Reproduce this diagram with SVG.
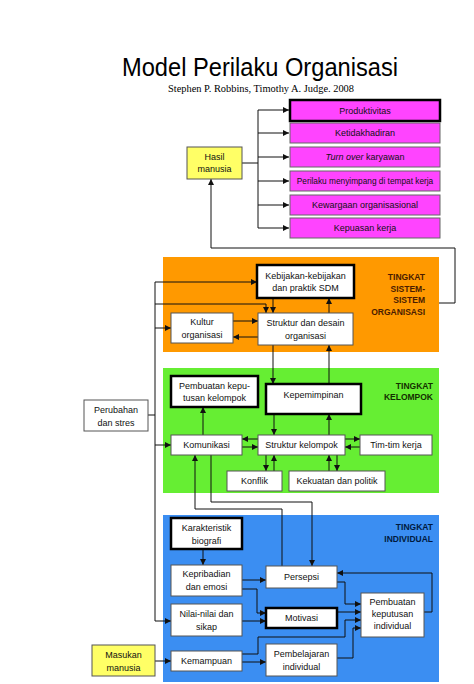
<svg xmlns="http://www.w3.org/2000/svg" width="474" height="684" viewBox="0 0 474 684">
<defs>
<marker id="ah" markerWidth="6" markerHeight="6" refX="6" refY="3" orient="auto" markerUnits="userSpaceOnUse">
<path d="M0,0 L6,3 L0,6 z" fill="#111"/>
</marker>
<style>
text{font-family:"Liberation Sans",Arial,sans-serif;font-size:9px;fill:#111;text-anchor:middle}
.box{fill:#fff;stroke:#555;stroke-width:1}
.thick{fill:#fff;stroke:#000;stroke-width:2.5}
.pink{fill:#ff44ff;stroke:#666;stroke-width:1}
.pinkT{fill:#ff44ff;stroke:#000;stroke-width:2.5}
.yel{fill:#ffff66;stroke:#555;stroke-width:1}
.lvl{font-weight:bold;text-anchor:end;font-size:8.5px}
#connectors path{fill:none;stroke:#111;stroke-width:1}
.a{marker-end:url(#ah)}
</style>
</defs>
<rect width="474" height="684" fill="#fff"/>
<text x="260" y="76" style="font-size:25px;fill:#000" textLength="276" lengthAdjust="spacingAndGlyphs">Model Perilaku Organisasi</text>
<text x="261" y="92" style="font-family:'Liberation Serif',serif;font-size:10px;fill:#000" textLength="186" lengthAdjust="spacingAndGlyphs">Stephen P. Robbins, Timothy A. Judge. 2008</text>

<g id="panels">
<rect x="163" y="257" width="276" height="95" fill="#ff9900"/>
<rect x="163" y="368" width="276" height="125" fill="#66ee33"/>
<rect x="163" y="515" width="276" height="167" fill="#3b8ef2"/>
<text class="lvl" x="425" y="280" style="fill:#4a1c00">TINGKAT</text>
<text class="lvl" x="425" y="292" style="fill:#4a1c00">SISTEM-</text>
<text class="lvl" x="425" y="303" style="fill:#4a1c00">SISTEM</text>
<text class="lvl" x="425" y="315" style="fill:#4a1c00">ORGANISASI</text>
<text class="lvl" x="433" y="389" style="fill:#143000">TINGKAT</text>
<text class="lvl" x="433" y="400" style="fill:#143000">KELOMPOK</text>
<text class="lvl" x="433" y="530" style="fill:#001a40">TINGKAT</text>
<text class="lvl" x="433" y="542" style="fill:#001a40">INDIVIDUAL</text>
</g>

<g id="connectors">
<path d="M242,163 H258"/>
<path d="M258,110 V228"/>
<path class="a" d="M258,110 H289"/>
<path class="a" d="M258,133 H289"/>
<path class="a" d="M258,157 H289"/>
<path class="a" d="M258,181 H289"/>
<path class="a" d="M258,205 H289"/>
<path class="a" d="M258,228 H289"/>
<path class="a" d="M439,303 H455 V248 H211 V179"/>
<path d="M155,282 V621"/>
<path class="a" d="M155,282 H257"/>
<path class="a" d="M155,304 H266 V313"/>
<path class="a" d="M155,328 H171"/>
<path d="M148,415 H155"/>
<path class="a" d="M155,445 H171"/>
<path class="a" d="M155,621 H171"/>
<path class="a" d="M273,298 V313"/>
<path class="a" d="M329,313 V298"/>
<path class="a" d="M233,321 H258"/>
<path class="a" d="M258,337 H233"/>
<path class="a" d="M273,345 V384"/>
<path class="a" d="M329,384 V345"/>
<path class="a" d="M274,414 V435"/>
<path class="a" d="M329,435 V414"/>
<path class="a" d="M203,435 V407"/>
<path class="a" d="M258,439 H242"/>
<path class="a" d="M242,447 H258"/>
<path class="a" d="M345,439 H360"/>
<path class="a" d="M360,447 H345"/>
<path class="a" d="M266,455 V471"/>
<path class="a" d="M274,471 V455"/>
<path class="a" d="M329,471 V455"/>
<path class="a" d="M337,455 V471"/>
<path class="a" d="M211,455 V502 H312 V566"/>
<path class="a" d="M282,566 V509 H195 V455"/>
<path class="a" d="M203,549 V565"/>
<path class="a" d="M242,580 H266"/>
<path class="a" d="M242,589 H257 V613 H266"/>
<path class="a" d="M242,621 H266"/>
<path class="a" d="M155,661 H171"/>
<path class="a" d="M242,662 H266"/>
<path class="a" d="M242,654 H258 V637 H345 V620 H361"/>
<path class="a" d="M337,582 H345 V604 H361"/>
<path class="a" d="M337,612 H361"/>
<path class="a" d="M337,658 H353 V628 H361"/>
<path class="a" d="M424,612 H432 V573 H337"/>
</g>

<g id="hasil"><rect class="yel" x="187" y="147" width="55" height="32"/><text x="214.5" y="160">Hasil</text><text x="214.5" y="172">manusia</text></g>
<g id="produktivitas"><rect class="pinkT" x="290" y="100" width="150" height="21"/><text x="365" y="114">Produktivitas</text></g>
<g id="ketidakhadiran"><rect class="pink" x="290" y="123" width="150" height="20"/><text x="365" y="136">Ketidakhadiran</text></g>
<g id="turnover"><rect class="pink" x="290" y="147" width="150" height="20"/><text x="365" y="160"><tspan font-style="italic">Turn over</tspan> karyawan</text></g>
<g id="perilaku"><rect class="pink" x="290" y="171" width="150" height="20"/><text x="365" y="184" style="font-size:8.3px">Perilaku menyimpang di tempat kerja</text></g>
<g id="kewargaan"><rect class="pink" x="290" y="195" width="150" height="20"/><text x="365" y="208">Kewargaan organisasional</text></g>
<g id="kepuasan"><rect class="pink" x="290" y="218" width="150" height="20"/><text x="365" y="231">Kepuasan kerja</text></g>

<g id="kebijakan"><rect class="thick" x="257" y="265" width="97" height="33"/><text x="305.5" y="279">Kebijakan-kebijakan</text><text x="305.5" y="291">dan praktik SDM</text></g>
<g id="struktur-desain"><rect class="box" x="258" y="313" width="95" height="32"/><text x="305.5" y="326">Struktur dan desain</text><text x="305.5" y="339">organisasi</text></g>
<g id="kultur"><rect class="box" x="171" y="313" width="62" height="30"/><text x="202" y="325">Kultur</text><text x="202" y="338">organisasi</text></g>

<g id="perubahan"><rect class="box" x="84" y="400" width="64" height="31"/><text x="116" y="413">Perubahan</text><text x="116" y="426">dan stres</text></g>

<g id="keputusan-kelompok"><rect class="thick" x="171" y="376" width="87" height="31"/><text x="214.5" y="389">Pembuatan kepu-</text><text x="214.5" y="401">tusan kelompok</text></g>
<g id="kepemimpinan"><rect class="thick" x="266" y="384" width="95" height="30"/><text x="313.5" y="398">Kepemimpinan</text></g>
<g id="komunikasi"><rect class="box" x="171" y="435" width="71" height="20"/><text x="206.5" y="448">Komunikasi</text></g>
<g id="struktur-kelompok"><rect class="box" x="258" y="435" width="87" height="20"/><text x="301.5" y="448">Struktur kelompok</text></g>
<g id="timtim"><rect class="box" x="360" y="435" width="72" height="20"/><text x="396" y="448">Tim-tim kerja</text></g>
<g id="konflik"><rect class="box" x="227" y="471" width="55" height="20"/><text x="254.5" y="484">Konflik</text></g>
<g id="kekuatan"><rect class="box" x="289" y="471" width="96" height="20"/><text x="337" y="484">Kekuatan dan politik</text></g>

<g id="karakteristik"><rect class="thick" x="171" y="518" width="71" height="31"/><text x="206.5" y="531">Karakteristik</text><text x="206.5" y="544">biografi</text></g>
<g id="kepribadian"><rect class="box" x="171" y="565" width="71" height="31"/><text x="206.5" y="577">Kepribadian</text><text x="206.5" y="590">dan emosi</text></g>
<g id="nilai"><rect class="box" x="171" y="604" width="71" height="32"/><text x="206.5" y="617">Nilai-nilai dan</text><text x="206.5" y="630">sikap</text></g>
<g id="kemampuan"><rect class="box" x="171" y="651" width="71" height="20"/><text x="206.5" y="664">Kemampuan</text></g>
<g id="masukan"><rect class="yel" x="92" y="645" width="63" height="31"/><text x="123.5" y="658">Masukan</text><text x="123.5" y="671">manusia</text></g>
<g id="persepsi"><rect class="box" x="266" y="566" width="71" height="22"/><text x="301.5" y="580">Persepsi</text></g>
<g id="motivasi"><rect class="thick" x="266" y="608" width="71" height="20"/><text x="301.5" y="621">Motivasi</text></g>
<g id="pembelajaran"><rect class="box" x="266" y="644" width="71" height="32"/><text x="301.5" y="657">Pembelajaran</text><text x="301.5" y="670">individual</text></g>
<g id="keputusan-individual"><rect class="box" x="361" y="593" width="63" height="44"/><text x="392.5" y="605">Pembuatan</text><text x="392.5" y="617">keputusan</text><text x="392.5" y="629">individual</text></g>
</svg>
